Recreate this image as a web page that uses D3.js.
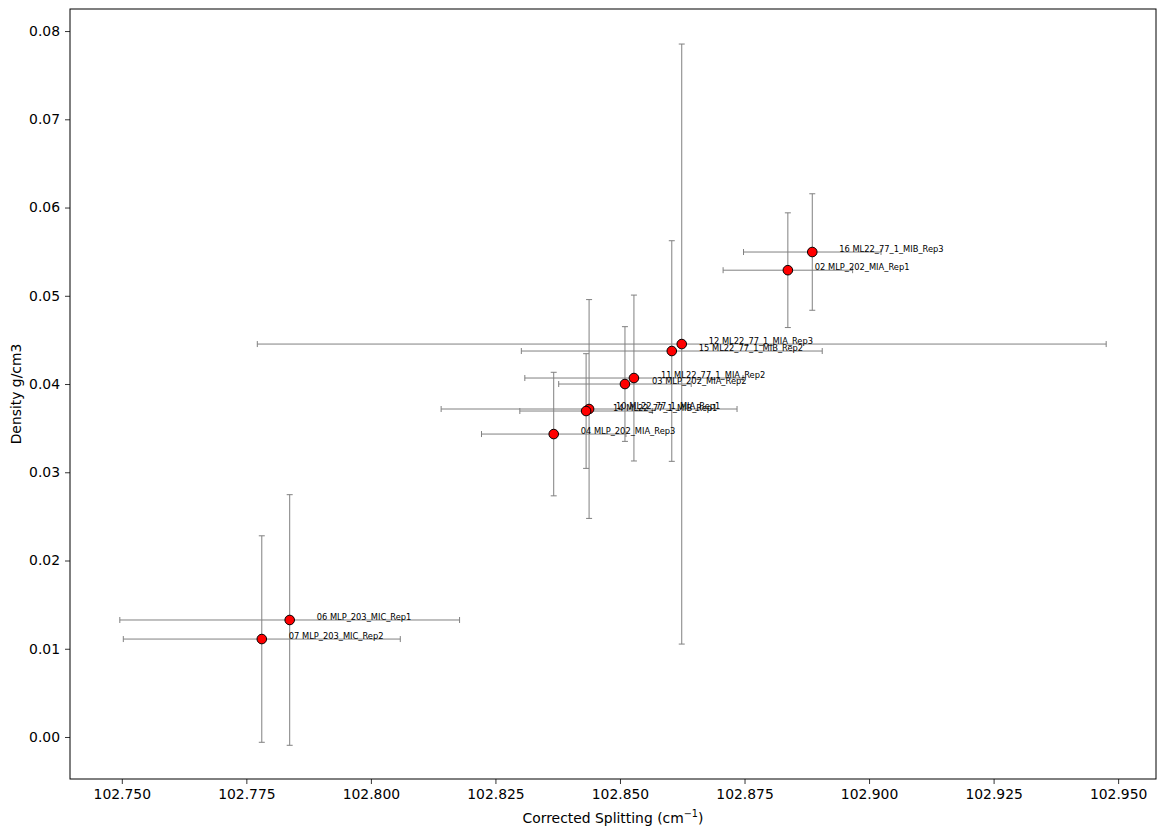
<!DOCTYPE html>
<html>
<head>
<meta charset="utf-8">
<script src="https://cdn.jsdelivr.net/npm/d3@7"></script>
<style>
  body { margin: 0; background: #fff; }
  svg { font-family: "DejaVu Sans", sans-serif; }
</style>
</head>
<body>
<div id="mainDiv"></div>
<script>
'use strict';

// amostras
var labels = ['16 ML22_77_1_MIB_Rep3', '02 MLP_202_MIA_Rep1', '12 ML22_77_1_MIA_Rep3', '15 ML22_77_1_MIB_Rep2',
              '11 ML22_77_1_MIA_Rep2', '03 MLP_202_MIA_Rep2', '10 ML22_77_1_MIA_Rep1', '14 ML22_77_1_MIB_Rep1',
              '04 MLP_202_MIA_Rep3', '06 MLP_203_MIC_Rep1', '07 MLP_203_MIC_Rep2'];
var splitting = [102.8886, 102.8837, 102.8624, 102.8604, 102.8528, 102.8510, 102.8438, 102.8432, 102.8367, 102.7837, 102.7781];
var splittingErr = [0.0138, 0.0130, 0.0852, 0.0302, 0.0219, 0.0133, 0.0297, 0.0133, 0.0145, 0.0341, 0.0278];
var density = [0.05496, 0.0529, 0.04453, 0.04374, 0.04068, 0.0400, 0.03717, 0.03694, 0.03433, 0.01326, 0.0111];
var densityErr = [0.0066, 0.0065, 0.0340, 0.0125, 0.0094, 0.0065, 0.0124, 0.0065, 0.0070, 0.0142, 0.0117];

var xTicks = [102.750, 102.775, 102.800, 102.825, 102.850, 102.875, 102.900, 102.925, 102.950];
var yTicks = [0.00, 0.01, 0.02, 0.03, 0.04, 0.05, 0.06, 0.07, 0.08];

var chart = {};
chart.W = 1165;
chart.H = 840;
chart.margins = {top: 9, bottom: 61, left: 70, right: 9};
chart.w = chart.W - chart.margins.left - chart.margins.right;
chart.h = chart.H - chart.margins.top - chart.margins.bottom;
chart.errColor = '#808080';
chart.cap = 3;

chart.run = function()
{
    var data = labels.map(function(l, i) {
        return {label: l, x: splitting[i], xe: splittingErr[i], y: density[i], ye: densityErr[i]};
    });

    var svg = d3.select('#mainDiv').append('svg')
        .attr('width', chart.W)
        .attr('height', chart.H);

    var g = svg.append('g')
        .attr('transform', 'translate(' + chart.margins.left + ',' + chart.margins.top + ')');

    var xScale = d3.scaleLinear().domain([102.7396, 102.9576]).range([0, chart.w]);
    var yScale = d3.scaleLinear().domain([-0.00476, 0.0825]).range([chart.h, 0]);

    // eixos
    var xAxis = d3.axisBottom(xScale).tickValues(xTicks).tickFormat(d3.format('.3f')).tickSize(5).tickPadding(5);
    var yAxis = d3.axisLeft(yScale).tickValues(yTicks).tickFormat(d3.format('.2f')).tickSize(5).tickPadding(5);

    var gx = g.append('g').attr('transform', 'translate(0,' + chart.h + ')').call(xAxis);
    var gy = g.append('g').call(yAxis);
    [gx, gy].forEach(function(a) {
        a.select('.domain').remove();
        a.selectAll('line').attr('stroke', '#000').attr('stroke-width', 0.8);
        a.selectAll('text').attr('font-size', 13.9).attr('fill', '#000').attr('font-family', '"DejaVu Sans", sans-serif');
    });

    // barras de erro
    var eb = g.append('g').attr('stroke', chart.errColor).attr('stroke-width', 1).attr('fill', 'none');
    data.forEach(function(d) {
        var cx = xScale(d.x), cy = yScale(d.y);
        var x0 = xScale(d.x - d.xe), x1 = xScale(d.x + d.xe);
        var y0 = yScale(d.y - d.ye), y1 = yScale(d.y + d.ye);
        eb.append('line').attr('x1', cx).attr('x2', cx).attr('y1', y0).attr('y2', y1);
        eb.append('line').attr('x1', x0).attr('x2', x1).attr('y1', cy).attr('y2', cy);
        [y0, y1].forEach(function(yy) {
            eb.append('line').attr('x1', cx - chart.cap).attr('x2', cx + chart.cap).attr('y1', yy).attr('y2', yy);
        });
        [x0, x1].forEach(function(xx) {
            eb.append('line').attr('x1', xx).attr('x2', xx).attr('y1', cy - chart.cap).attr('y2', cy + chart.cap);
        });
    });

    // pontos
    g.append('g').selectAll('circle')
        .data(data)
        .enter()
        .append('circle')
        .attr('cx', function(d) { return xScale(d.x); })
        .attr('cy', function(d) { return yScale(d.y); })
        .attr('r', 4.8)
        .attr('fill', '#ff0000')
        .attr('stroke', '#000')
        .attr('stroke-width', 1);

    // rótulos
    g.append('g').selectAll('text')
        .data(data)
        .enter()
        .append('text')
        .attr('x', function(d) { return xScale(d.x) + 27; })
        .attr('y', function(d) { return yScale(d.y); })
        .attr('font-size', 8.3)
        .attr('fill', '#000')
        .text(function(d) { return d.label; });

    // moldura
    g.append('rect')
        .attr('width', chart.w)
        .attr('height', chart.h)
        .attr('fill', 'none')
        .attr('stroke', '#000')
        .attr('stroke-width', 1);

    // títulos dos eixos
    var xl = svg.append('text')
        .attr('x', chart.margins.left + chart.w / 2)
        .attr('y', 823)
        .attr('text-anchor', 'middle')
        .attr('font-size', 13.9);
    xl.append('tspan').text('Corrected Splitting (cm');
    xl.append('tspan').attr('dy', -6).attr('font-size', 9.7).text('\u22121');
    xl.append('tspan').attr('dy', 6).text(')');

    svg.append('text')
        .attr('transform', 'translate(21,' + (chart.margins.top + chart.h / 2) + ') rotate(-90)')
        .attr('text-anchor', 'middle')
        .attr('font-size', 13.9)
        .text('Density g/cm3');
}

window.onload = chart.run;
</script>
</body>
</html>
